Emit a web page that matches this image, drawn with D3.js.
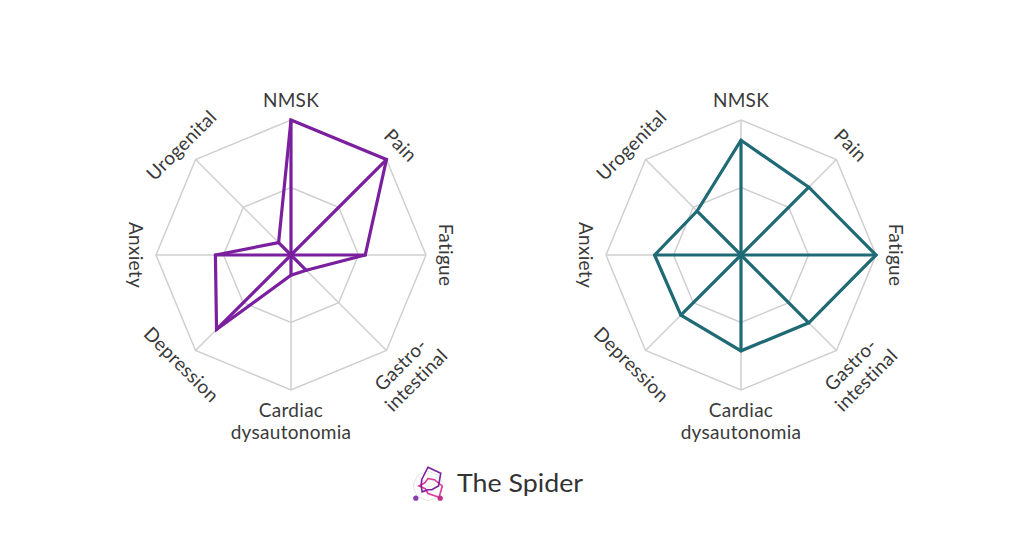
<!DOCTYPE html>
<html>
<head>
<meta charset="utf-8">
<script src="https://cdn.jsdelivr.net/npm/d3@7"></script>
<style>
  html, body { margin: 0; padding: 0; background: #fff; overflow: hidden; }
</style>
</head>
<body>
<div id="chart"></div>
<script>
// axis labels (one array entry per line)
const axisLabels = [
    ["NMSK"], ["Pain"], ["Fatigue"], ["Gastro-", "intestinal"],
    ["Cardiac", "dysautonomia"], ["Depression"], ["Anxiety"], ["Urogenital"]
];
// values, 0..1, clockwise from NMSK
const leftValues  = [1.0, 1.0, 0.55, 0.16, 0.15, 0.78, 0.56, 0.13];
const rightValues = [0.85, 0.71, 1.0, 0.71, 0.71, 0.63, 0.64, 0.46];
const gridLevels = [0.5, 1];

// little logo radar
const logoPurple = [1.25, 1.2, 0.7, 0.35, 0.25, 0.55, 0.45, 0.6];
const logoPink   = [0.5, 0.6, 0.95, 1.05, 0.5, 0.25, 0.6, 0.3];

const width = 1024, height = 538;
const svg = d3.select("#chart").append("svg")
    .attr("width", width)
    .attr("height", height)
    .style("font-family", "Lato, 'Open Sans', sans-serif");

svg.append("rect").attr("width", width).attr("height", height).attr("fill", "#fff");

const n = axisLabels.length;
const angle = d3.scaleLinear().domain([0, n]).range([0, 2 * Math.PI]);

function drawRadar(cx, cy, values, color) {
    const r = d3.scaleLinear().domain([0, 1]).range([0, 135]);
    const g = svg.append("g").attr("transform", `translate(${cx},${cy})`);
    const idx = d3.range(n);

    // grid rings
    g.selectAll(".ring")
        .data(gridLevels)
        .join("path")
        .attr("d", lv => d3.lineRadial()
            .angle(i => angle(i))
            .radius(() => r(lv))
            .curve(d3.curveLinearClosed)(idx))
        .attr("fill", "none")
        .attr("stroke", "#cfcfcf")
        .attr("stroke-width", 1.5);

    // grid spokes
    g.selectAll(".spoke")
        .data(idx)
        .join("line")
        .attr("x2", i => r(1) * Math.sin(angle(i)))
        .attr("y2", i => -r(1) * Math.cos(angle(i)))
        .attr("stroke", "#cfcfcf")
        .attr("stroke-width", 1.5);

    // data spokes
    g.selectAll(".dspoke")
        .data(values)
        .join("line")
        .attr("x2", (v, i) => r(v) * Math.sin(angle(i)))
        .attr("y2", (v, i) => -r(v) * Math.cos(angle(i)))
        .attr("stroke", color)
        .attr("stroke-width", 3.2)
        .attr("stroke-linecap", "round");

    // data polygon
    g.append("path")
        .datum(values)
        .attr("d", d3.lineRadial()
            .angle((v, i) => angle(i))
            .radius(v => r(v))
            .curve(d3.curveLinearClosed))
        .attr("fill", "none")
        .attr("stroke", color)
        .attr("stroke-width", 3.2)
        .attr("stroke-linejoin", "miter");

    // labels, rotated along the rim
    const lineH = 22;
    g.selectAll(".lbl")
        .data(axisLabels)
        .join("text")
        .attr("transform", (lines, i) => {
            const a = angle(i);
            const deg = a * 180 / Math.PI;
            const rot = deg <= 90 ? deg : (deg <= 270 ? deg - 180 : deg - 360);
            const rr = 144 + lines.length * 11;
            return `translate(${rr * Math.sin(a)},${-rr * Math.cos(a)}) rotate(${rot})`;
        })
        .attr("text-anchor", "middle")
        .attr("fill", "#3a3a3a")
        .style("font-size", "19px")
        .style("letter-spacing", "0.3px")
        .each(function (lines) {
            const t = d3.select(this);
            lines.forEach((s, k) => {
                t.append("tspan")
                    .attr("x", 0)
                    .attr("y", (k - (lines.length - 1) / 2) * lineH)
                    .attr("dy", "0.35em")
                    .text(s);
            });
        });
}

drawRadar(291, 255, leftValues, "#7a1f9e");
drawRadar(741, 255, rightValues, "#1f6a74");

// logo
const logo = svg.append("g").attr("transform", "translate(428,486)");
const lr = d3.scaleLinear().domain([0, 1]).range([0, 15]);
const lidx = d3.range(n);
logo.append("path")
    .attr("d", d3.lineRadial().angle(i => angle(i)).radius(lr(1)).curve(d3.curveLinearClosed)(lidx))
    .attr("fill", "none").attr("stroke", "#e4e4e4").attr("stroke-width", 1);
logo.append("path")
    .attr("d", d3.lineRadial().angle(i => angle(i)).radius(lr(0.5)).curve(d3.curveLinearClosed)(lidx))
    .attr("fill", "none").attr("stroke", "#ececec").attr("stroke-width", 0.8);
logo.selectAll(".ls").data(lidx).join("line")
    .attr("x2", i => lr(1) * Math.sin(angle(i)))
    .attr("y2", i => -lr(1) * Math.cos(angle(i)))
    .attr("stroke", "#ececec").attr("stroke-width", 0.8);
[[logoPink, "#e0399a"], [logoPurple, "#7a1f9e"]].forEach(([vals, col]) => {
    logo.append("path")
        .datum(vals)
        .attr("d", d3.lineRadial().angle((v, i) => angle(i)).radius(v => lr(v)).curve(d3.curveLinearClosed))
        .attr("fill", "none").attr("stroke", col).attr("stroke-width", 1.6);
});
// tiny spiders
logo.selectAll(".bug").data([5, 3]).join("circle")
    .attr("cx", i => lr(1.15) * Math.sin(angle(i)))
    .attr("cy", i => -lr(1.15) * Math.cos(angle(i)))
    .attr("r", 2.6)
    .attr("fill", (i, k) => k === 0 ? "#8a3fb0" : "#c0308a");

svg.append("text")
    .attr("x", 457)
    .attr("y", 492)
    .attr("fill", "#333")
    .attr("textLength", 126)
    .attr("lengthAdjust", "spacingAndGlyphs")
    .style("font-size", "25px")
    .text("The Spider");
</script>
</body>
</html>
